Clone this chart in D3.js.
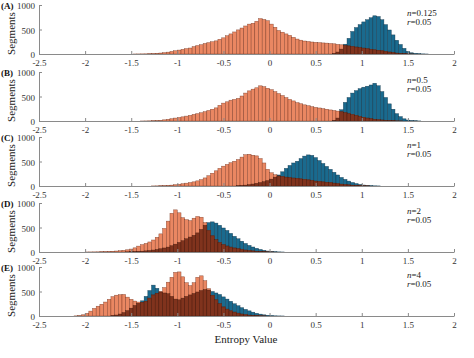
<!DOCTYPE html>
<html><head><meta charset="utf-8">
<script src="https://cdn.jsdelivr.net/npm/d3@7"></script>
<style>
html,body{margin:0;padding:0;background:#fff;}
svg{display:block;}
svg text{font-family:"Liberation Serif","Times New Roman","DejaVu Serif",serif !important;}
</style></head>
<body><svg id="c" width="474" height="358"></svg>
<script>
// ---- data ----
const binWidth = 0.04;
const panelLabels = ["(A)", "(B)", "(C)", "(D)", "(E)"];
const nValues = ["0.125", "0.5", "1", "2", "4"];
const rValue = "0.05";
const xTicks = [-2.5, -2, -1.5, -1, -0.5, 0, 0.5, 1, 1.5, 2];
const xTickLabels = ["-2.5", "-2", "-1.5", "-1", "-0.5", "0", "0.5", "1", "1.5", "2"];
const yTicks = [0, 500, 1000];
const yTickLabels = ["0", "500", "1000"];

// first bin left edge of each series
const orangeStart = [-1.48, -1.40, -1.28, -2.00, -2.12];
const blueStart = [0.68, 0.68, -0.36, -1.56, -1.72];

const orangeA = [1,2,3,4,6,9,14,20,28,38,52,66,80,95,110,122,150,172,190,215,232,250,268,300,330,372,410,450,492,530,572,610,628,668,722,705,680,610,545,480,445,410,380,340,305,282,265,255,245,238,232,226,222,214,208,196,188,176,165,155,142,130,120,108,95,85,76,65,52,40,28,18,11,6,3,1];
const blueA = [10,40,100,200,320,460,540,600,655,700,740,780,765,700,600,490,390,280,195,115,55,25,12,6,3,1];

const orangeB = [1,2,4,6,9,14,24,35,46,60,72,85,100,115,135,150,168,190,215,240,268,320,365,392,425,440,462,510,570,615,650,678,718,700,668,640,600,560,520,478,440,410,375,352,330,312,292,278,266,252,240,226,214,202,188,170,150,132,112,92,76,60,46,36,27,20,13,8,5,2,1];
const blueB = [15,60,230,380,480,570,620,660,690,710,735,770,720,600,480,350,240,150,90,45,20,10,5,2];

const orangeC = [2,3,5,8,12,18,27,36,46,58,70,85,105,130,165,210,260,310,360,405,440,475,505,540,590,638,648,628,615,560,470,340,270,230,205,192,180,170,162,155,145,135,125,112,100,92,84,76,68,58,48,38,30,23,17,11,7,4,2];
const blueC = [5,10,18,28,40,55,70,88,110,140,180,225,290,360,420,470,505,560,610,635,625,580,520,460,400,340,280,225,175,135,100,72,50,32,20,12,7,4,2];

const orangeD = [1,2,3,4,6,9,12,15,20,26,34,45,60,85,120,150,175,205,245,300,370,480,630,790,860,800,700,660,640,690,725,710,600,440,330,250,190,150,122,100,82,66,52,40,30,22,15,10,6,3,1];
const blueD = [3,5,8,12,17,23,30,40,52,66,82,100,128,160,195,230,270,305,340,390,460,545,600,615,590,545,490,440,380,320,270,220,175,135,102,75,52,34,20,11,6,3,1];

const orangeE = [3,8,25,55,100,155,200,240,285,340,395,425,435,440,385,340,305,285,280,300,365,430,465,500,580,690,790,890,900,800,680,620,680,790,820,720,560,420,330,250,185,140,105,80,58,40,28,18,12,7,4,2];
const blueE = [10,20,40,70,110,160,215,260,310,400,520,630,565,490,470,455,400,345,330,365,400,430,460,490,520,540,530,500,470,440,390,345,300,250,210,170,135,105,78,55,38,24,14,8,4,2,1];

const orangeSeries = [orangeA, orangeB, orangeC, orangeD, orangeE];
const blueSeries = [blueA, blueB, blueC, blueD, blueE];

// ---- layout ----
const baselines = [54, 121, 186, 252, 316];
const panelH = 49;
const FONT = "'Liberation Serif','Times New Roman','DejaVu Serif',serif";
const svg = d3.select("#c");
const x = d3.scaleLinear().domain([-2.5, 2]).range([39, 454]);

const axisColor = "#8a8a8a";
const textColor = "#333";
const blueFill = "#1a6a8e", blueStroke = "#0a2c40";
const orangeFill = "#ea8762", orangeStroke = "#6e2c16";
const overlapFill = "#80331d", overlapStroke = "#3d160b";

function toBins(start, vals) {
  const k0 = Math.round(start / binWidth);
  return vals.map((v, i) => ({k: k0 + i, x0: (k0 + i) * binWidth, x1: (k0 + i + 1) * binWidth, v}));
}

for (let p = 0; p < 5; p++) {
  const y0 = baselines[p];
  const y = d3.scaleLinear().domain([0, 1000]).range([y0, y0 - panelH]);
  const top = y(1000);
  const g = svg.append("g").attr("font-family", FONT);

  const ob = toBins(orangeStart[p], orangeSeries[p]);
  const bb = toBins(blueStart[p], blueSeries[p]);
  const bmap = new Map(bb.map(d => [d.k, d.v]));
  const ov = ob.filter(d => bmap.has(d.k)).map(d => ({x0: d.x0, x1: d.x1, v: Math.min(d.v, bmap.get(d.k))}));

  const draw = (data, fill, stroke) => {
    g.append("g").selectAll("rect").data(data).join("rect")
      .attr("x", d => x(d.x0)).attr("width", d => x(d.x1) - x(d.x0))
      .attr("y", d => y(d.v)).attr("height", d => y0 - y(d.v))
      .attr("fill", fill).attr("stroke", stroke).attr("stroke-width", 0.45).attr("stroke-opacity", 0.8);
  };
  draw(bb, blueFill, blueStroke);
  draw(ob, orangeFill, orangeStroke);
  draw(ov, overlapFill, overlapStroke);

  // x axis
  const xa = g.append("g").attr("transform", `translate(0,${y0})`)
    .call(d3.axisBottom(x).tickValues(xTicks).tickSizeInner(-3).tickSizeOuter(0)
      .tickFormat((d, i) => xTickLabels[i]));
  xa.attr("font-family", FONT);
  xa.select(".domain").attr("stroke", axisColor);
  xa.selectAll(".tick line").attr("stroke", axisColor);
  xa.selectAll(".tick text").attr("fill", textColor).attr("font-size", "9px")
    .attr("font-family", FONT).attr("y", 6).attr("dy", "0.71em");

  // y axis
  const ya = g.append("g").attr("transform", `translate(${x(-2.5)},0)`)
    .call(d3.axisLeft(y).tickValues(yTicks).tickSizeInner(-3).tickSizeOuter(0)
      .tickFormat((d, i) => yTickLabels[i]));
  ya.attr("font-family", FONT);
  ya.select(".domain").attr("stroke", axisColor);
  ya.selectAll(".tick line").attr("stroke", axisColor);
  ya.selectAll(".tick text").attr("fill", textColor).attr("font-size", "9px")
    .attr("font-family", FONT).attr("x", -4).attr("dy", "0.4em");

  // panel label
  g.append("text").attr("x", 1).attr("y", top).attr("dy", "0.4em")
    .attr("font-size", "9px").attr("font-weight", "bold").attr("fill", "#111")
    .text(panelLabels[p]);

  // y title
  g.append("text").attr("transform", `translate(11,${(y0 + top) / 2 + 4}) rotate(-90)`)
    .attr("text-anchor", "middle").attr("dy", "0.35em").attr("font-size", "11px").attr("fill", "#222")
    .text("Segments");

  // annotation
  const t1 = g.append("text").attr("x", 407).attr("y", top + 11).attr("font-size", "9px").attr("fill", "#222");
  t1.append("tspan").attr("font-style", "italic").text("n");
  t1.append("tspan").text("=" + nValues[p]);
  const t2 = g.append("text").attr("x", 407).attr("y", top + 20).attr("font-size", "9px").attr("fill", "#222");
  t2.append("tspan").attr("font-style", "italic").text("r");
  t2.append("tspan").text("=" + rValue);
}

svg.append("text").attr("x", 246).attr("y", 339).attr("dy", "0.35em").attr("text-anchor", "middle")
  .attr("font-family", FONT).attr("font-size", "11px").attr("fill", "#222").text("Entropy Value");
</script></body></html>
